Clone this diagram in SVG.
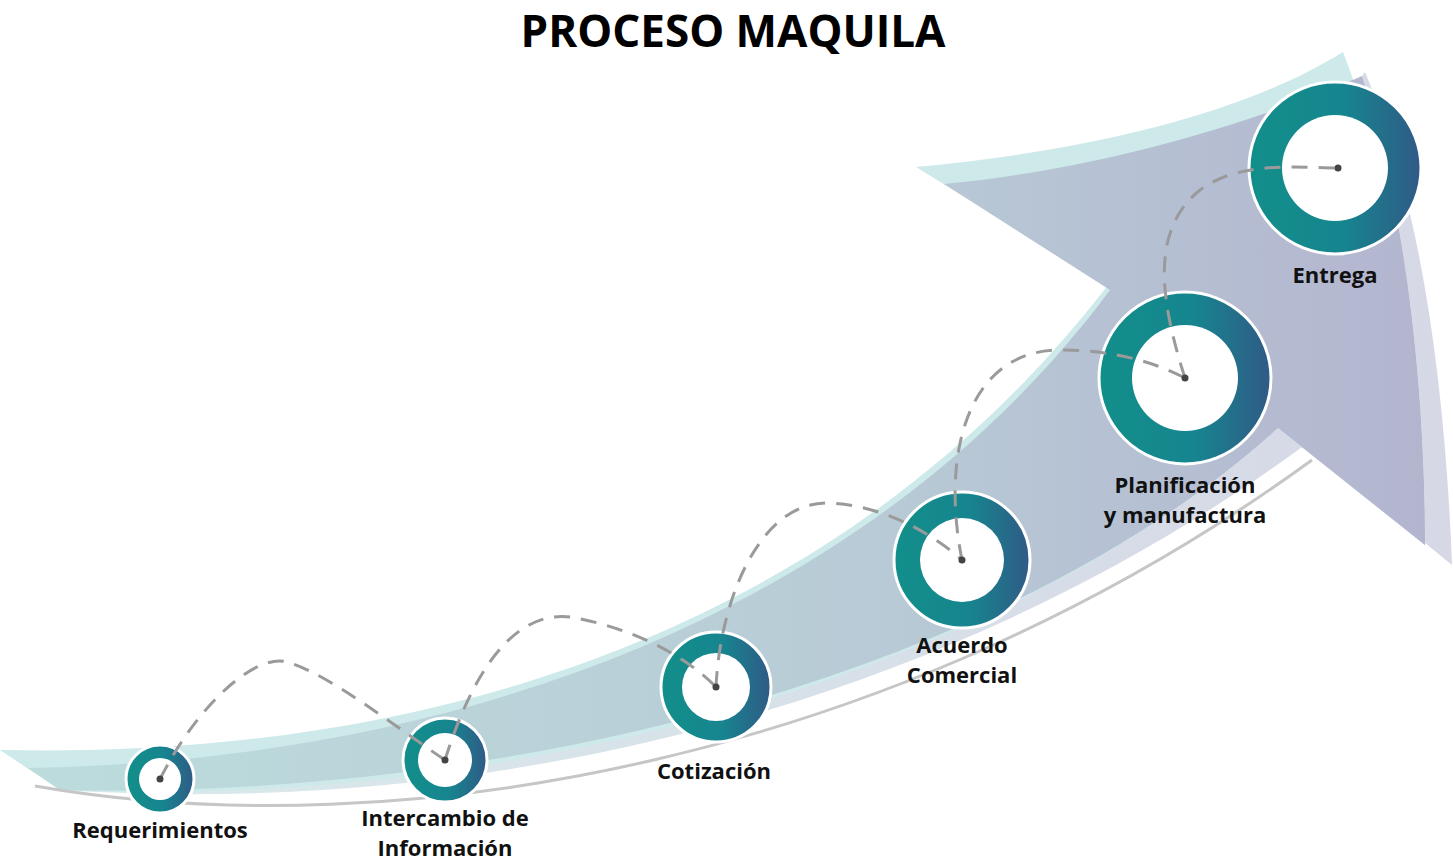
<svg xmlns="http://www.w3.org/2000/svg" width="1453" height="866" viewBox="0 0 1453 866">
<style>
.lbl{font-family:"Open Sans","Noto Sans",sans-serif;font-weight:700;font-size:22px;fill:#111;text-anchor:middle}
.ring{fill:url(#rg);stroke:#fff;stroke-width:3}
.hole{fill:#fff}
.dot{fill:#444}
.dash{fill:none;stroke:#9a9a9a;stroke-width:3;stroke-dasharray:16 11}
</style>
<defs>
<linearGradient id="rg" x1="0" y1="0" x2="1" y2="0">
<stop offset="0" stop-color="#128f8a"/><stop offset="0.55" stop-color="#16858f"/><stop offset="1" stop-color="#305a86"/>
</linearGradient>
<linearGradient id="body" x1="0" y1="0" x2="1" y2="0">
<stop offset="0" stop-color="#bcdcdc"/><stop offset="0.6" stop-color="#b8cbd6"/><stop offset="1" stop-color="#b3b5cf"/>
</linearGradient>
<linearGradient id="back" x1="0" y1="0" x2="1" y2="0">
<stop offset="0" stop-color="#d9eaeb"/><stop offset="1" stop-color="#d6d8e6"/>
</linearGradient>
</defs>
<rect width="1453" height="866" fill="#fff"/>
<text x="733" y="47" style="font-family:'Open Sans','Noto Sans',sans-serif;font-weight:700;font-size:44px;fill:#000;text-anchor:middle">PROCESO MAQUILA</text>
<g id="arrow">
<path d="M60,790 C500,818 950,705 1305,445 L1452,565 C1445,380 1420,200 1365,72 L1362,76 C1405,210 1425,380 1425,545 L1278,428 C1000,680 500,800 60,790 Z" fill="url(#back)"/>
<path d="M0,750 C450,760 850,620 1108,285 L916,167 C1100,150 1250,110 1343,52 C1400,200 1425,380 1425,545 L1278,428 C1000,680 500,810 60,790 Z" fill="#cde9ea"/>
<path d="M28,768 C480,760 880,600 1110,290 L944,184 C1110,168 1260,120 1362,76 C1405,210 1425,380 1425,545 L1278,428 C1000,680 500,800 60,790 Z" fill="url(#body)"/>
<path d="M35,786 C400,850 900,760 1312,460" fill="none" stroke="#c6c6c6" stroke-width="3"/>
</g>
<g id="n1"><circle class="ring" cx="160" cy="779" r="34"/><circle class="hole" cx="160" cy="779" r="21"/><text class="lbl" x="160" y="838">Requerimientos</text></g>
<g id="n2"><circle class="ring" cx="445" cy="760" r="42"/><circle class="hole" cx="445" cy="760" r="27"/><text class="lbl" x="445" y="826">Intercambio de</text><text class="lbl" x="445" y="856">Información</text></g>
<g id="n3"><circle class="ring" cx="716" cy="687" r="55"/><circle class="hole" cx="716" cy="687" r="34"/><text class="lbl" x="714" y="779">Cotización</text></g>
<g id="n4"><circle class="ring" cx="962" cy="560" r="68"/><circle class="hole" cx="962" cy="560" r="42"/><text class="lbl" x="962" y="653">Acuerdo</text><text class="lbl" x="962" y="683">Comercial</text></g>
<g id="n5"><circle class="ring" cx="1185" cy="378" r="86"/><circle class="hole" cx="1185" cy="378" r="53"/><text class="lbl" x="1185" y="493">Planificación</text><text class="lbl" x="1185" y="523">y manufactura</text></g>
<g id="n6"><circle class="ring" cx="1335" cy="168" r="86"/><circle class="hole" cx="1335" cy="168" r="53"/><text class="lbl" x="1335" y="283">Entrega</text></g>
<g id="connectors">
<path class="dash" d="M160,779 C200,700 260,650 290,663 C330,675 400,730 445,760"/>
<path class="dash" d="M445,760 C470,680 510,610 570,617 C620,625 680,650 716,687"/>
<path class="dash" d="M716,687 C720,600 760,500 830,503 C890,506 940,540 962,560"/>
<path class="dash" d="M962,560 C940,450 970,350 1060,350 C1120,350 1160,365 1185,378"/>
<path class="dash" d="M1185,378 C1160,300 1150,230 1200,190 C1240,160 1300,168 1338,168"/>
<circle class="dot" cx="160" cy="779" r="3.5"/><circle class="dot" cx="445" cy="760" r="3.5"/><circle class="dot" cx="716" cy="687" r="3.5"/><circle class="dot" cx="962" cy="560" r="3.5"/><circle class="dot" cx="1185" cy="378" r="3.5"/><circle class="dot" cx="1338" cy="168" r="3.5"/>
</g>
</svg>
